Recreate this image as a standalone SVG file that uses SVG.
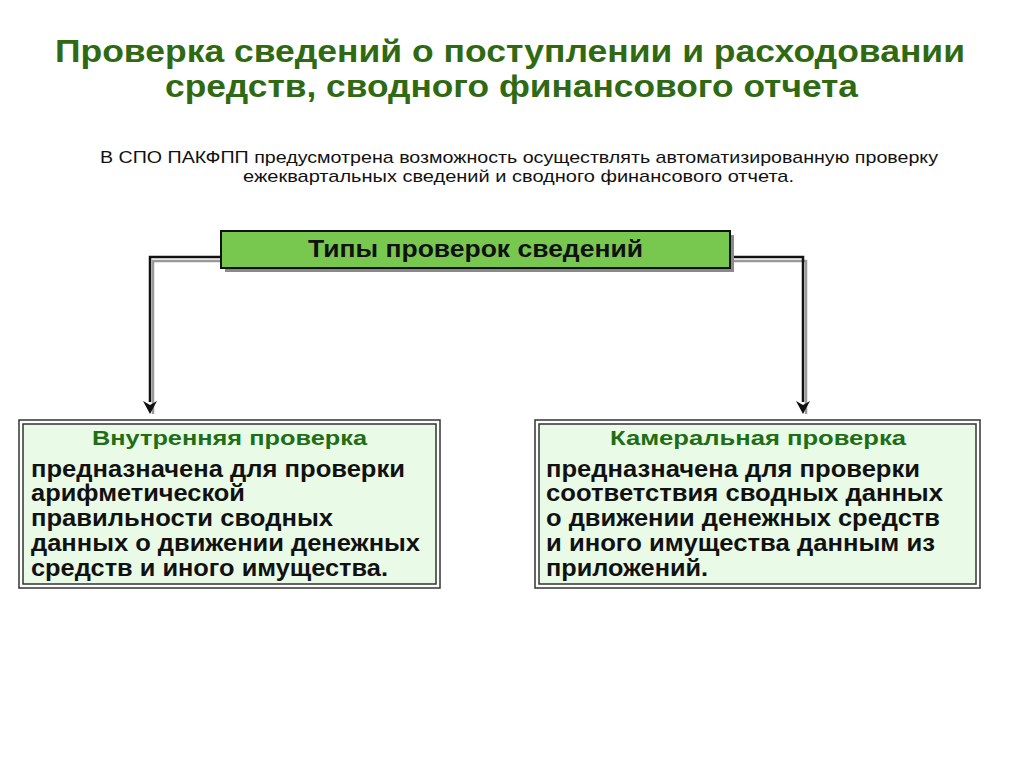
<svg xmlns="http://www.w3.org/2000/svg" width="1024" height="768" viewBox="0 0 1024 768">
<style>
.t{font-family:"Liberation Sans",Arial,sans-serif;font-weight:bold;fill:#2f6a12;font-size:31px}
.s{font-family:"Liberation Sans",Arial,sans-serif;font-size:17px;fill:#111}
.h{font-family:"Liberation Sans",Arial,sans-serif;font-weight:bold;font-size:21px;fill:#1e6e16}
.b{font-family:"Liberation Sans",Arial,sans-serif;font-weight:bold;font-size:23px;fill:#111}
.ln{fill:none;stroke:#111;stroke-width:2.5}
.sh{fill:none;stroke:#999;stroke-width:2.5}
.box{fill:#e9fbe6;stroke:#333;stroke-width:1.5}
</style>
<rect width="1024" height="768" fill="#fff"/>
<text class="t" x="55" y="62" textLength="910" lengthAdjust="spacingAndGlyphs">Проверка сведений о поступлении и расходовании</text>
<text class="t" x="165" y="97" textLength="693" lengthAdjust="spacingAndGlyphs">средств, сводного финансового отчета</text>
<text class="s" x="100" y="163" textLength="838" lengthAdjust="spacingAndGlyphs">В СПО ПАКФПП предусмотрена возможность осуществлять автоматизированную проверку</text>
<text class="s" x="243" y="182" textLength="551" lengthAdjust="spacingAndGlyphs">ежеквартальных сведений и сводного финансового отчета.</text>
<g id="connectors">
<path class="sh" d="M223,261 H153 V414"/>
<path class="sh" d="M732,261 H806 V414"/>
<path class="ln" d="M221,257 H150 V402"/>
<path class="ln" d="M730,257 H803 V402"/>
<path d="M143,401 L150,414 L157,401 L150,405 Z" fill="#111"/>
<path d="M796,401 L803,414 L810,401 L803,405 Z" fill="#111"/>
</g>
<g id="top">
<rect x="225" y="235" width="509" height="37" fill="#8a8a8a"/>
<rect x="221" y="231" width="509" height="37" fill="#78c850" stroke="#111" stroke-width="2"/>
<text x="308" y="257" textLength="335" lengthAdjust="spacingAndGlyphs" style="font-family:'Liberation Sans',Arial,sans-serif;font-weight:bold;font-size:23px;fill:#111">Типы проверок сведений</text>
</g>
<g id="left">
<rect x="19" y="420" width="421" height="168" fill="#fff" stroke="#333" stroke-width="1.5"/>
<rect class="box" x="23" y="424" width="413" height="160"/>
<text class="h" x="92" y="445" textLength="275" lengthAdjust="spacingAndGlyphs">Внутренняя проверка</text>
<text class="b" x="31" y="477" textLength="374" lengthAdjust="spacingAndGlyphs">предназначена для проверки</text>
<text class="b" x="31" y="501" textLength="214" lengthAdjust="spacingAndGlyphs">арифметической</text>
<text class="b" x="31" y="526" textLength="302" lengthAdjust="spacingAndGlyphs">правильности сводных</text>
<text class="b" x="31" y="551" textLength="389" lengthAdjust="spacingAndGlyphs">данных о движении денежных</text>
<text class="b" x="31" y="576" textLength="357" lengthAdjust="spacingAndGlyphs">средств и иного имущества.</text>
</g>
<g id="right">
<rect x="535" y="420" width="445" height="168" fill="#fff" stroke="#333" stroke-width="1.5"/>
<rect class="box" x="539" y="424" width="437" height="160"/>
<text class="h" x="610" y="445" textLength="296" lengthAdjust="spacingAndGlyphs">Камеральная проверка</text>
<text class="b" x="546" y="477" textLength="374" lengthAdjust="spacingAndGlyphs">предназначена для проверки</text>
<text class="b" x="546" y="501" textLength="397" lengthAdjust="spacingAndGlyphs">соответствия сводных данных</text>
<text class="b" x="546" y="526" textLength="394" lengthAdjust="spacingAndGlyphs">о движении денежных средств</text>
<text class="b" x="546" y="551" textLength="389" lengthAdjust="spacingAndGlyphs">и иного имущества данным из</text>
<text class="b" x="546" y="576" textLength="162" lengthAdjust="spacingAndGlyphs">приложений.</text>
</g>
</svg>
